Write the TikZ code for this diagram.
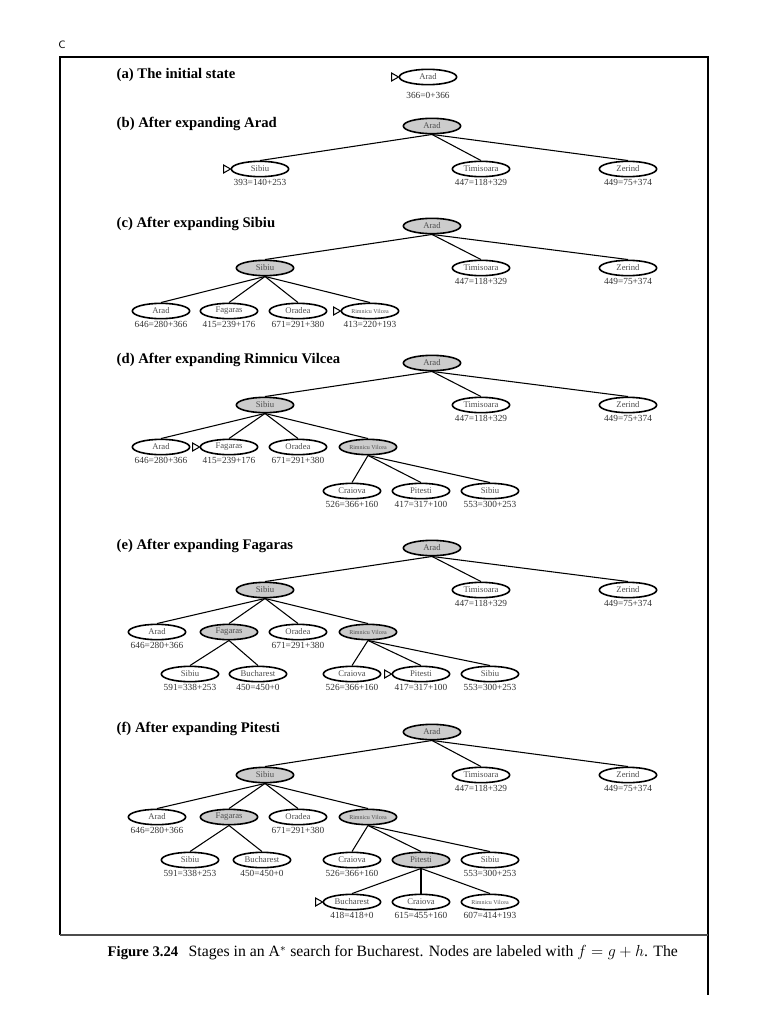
\documentclass[tikz,border=0pt]{standalone}
\usepackage{fontspec}
\setmainfont{Liberation Serif}
\usetikzlibrary{shapes.geometric}

\newcommand\frontier[1]{\draw[thick] (#1.west) -- ++(-7,-4) -- ++(0,8) -- cycle;}

\begin{document}
\begin{tikzpicture}[x=0.75pt,y=-0.75pt,
    city/.style={ellipse, draw, very thick, inner sep=0pt, minimum width=43pt, minimum height=11.5pt,
      font=\fontsize{6.5}{7}\selectfont, text=black!70},
    done/.style={city, fill=black!20},
    fval/.style={font=\fontsize{7}{8}\selectfont, text=black!80},
    title/.style={anchor=west, font=\fontsize{11}{13}\selectfont\bfseries},
    edge/.style={thick}
  ]
  \useasboundingbox (0,0) rectangle (768,1024);
  \node[font=\fontsize{8}{9}\sffamily] (c) at (62,45) {C};
  \draw[thick] (60,935) -- (60,57) -- (708,57) -- (708,995);
  \draw[very thick, black!70] (60,935) -- (708,935);

  % (a)
  \node[title] (ta) at (112,75) {(a) The initial state};
  \node[city] (a0) at (428,77) {Arad};
  \node[fval] (fa0) at (428,95) {366=0+366};
  \frontier{a0}

  % (b)
  \node[title] (tb) at (112,124) {(b) After expanding Arad};
  \node[done] (b0) at (432,126) {Arad};
  \node[city,label={[fval,inner sep=1pt]below:393=140+253}] (b1) at (260,169) {Sibiu};
  \node[city,label={[fval,inner sep=1pt]below:447=118+329}] (b2) at (481,169) {Timisoara};
  \node[city,label={[fval,inner sep=1pt]below:449=75+374}] (b3) at (628,169) {Zerind};
  \foreach \c in {b1,b2,b3} \draw[edge] (b0.south) -- (\c.north);
  \frontier{b1}

  % (c)
  \node[title] (tc) at (112,224) {(c) After expanding Sibiu};
  \node[done] (c0) at (432,226) {Arad};
  \node[done] (c1) at (265,268) {Sibiu};
  \node[city,label={[fval,inner sep=1pt]below:447=118+329}] (c2) at (481,268) {Timisoara};
  \node[city,label={[fval,inner sep=1pt]below:449=75+374}] (c3) at (628,268) {Zerind};
  \node[city,label={[fval,inner sep=1pt]below:646=280+366}] (c11) at (161,311) {Arad};
  \node[city,label={[fval,inner sep=1pt]below:415=239+176}] (c12) at (229,311) {Fagaras};
  \node[city,label={[fval,inner sep=1pt]below:671=291+380}] (c13) at (298,311) {Oradea};
  \node[city,label={[fval,inner sep=1pt]below:413=220+193},font=\fontsize{4.5}{5}\selectfont] (c14) at (370,311) {Rimnicu Vilcea};
  \foreach \c in {c1,c2,c3} \draw[edge] (c0.south) -- (\c.north);
  \foreach \c in {c11,c12,c13,c14} \draw[edge] (c1.south) -- (\c.north);
  \frontier{c14}

  % (d)
  \node[title] (td) at (112,360) {(d) After expanding Rimnicu Vilcea};
  \node[done] (d0) at (432,363) {Arad};
  \node[done] (d1) at (265,405) {Sibiu};
  \node[city,label={[fval,inner sep=1pt]below:447=118+329}] (d2) at (481,405) {Timisoara};
  \node[city,label={[fval,inner sep=1pt]below:449=75+374}] (d3) at (628,405) {Zerind};
  \node[city,label={[fval,inner sep=1pt]below:646=280+366}] (d11) at (161,447) {Arad};
  \node[city,label={[fval,inner sep=1pt]below:415=239+176}] (d12) at (229,447) {Fagaras};
  \node[city,label={[fval,inner sep=1pt]below:671=291+380}] (d13) at (298,447) {Oradea};
  \node[done,font=\fontsize{4.5}{5}\selectfont] (d14) at (368,447) {Rimnicu Vilcea};
  \node[city,label={[fval,inner sep=1pt]below:526=366+160}] (d141) at (352,491) {Craiova};
  \node[city,label={[fval,inner sep=1pt]below:417=317+100}] (d142) at (421,491) {Pitesti};
  \node[city,label={[fval,inner sep=1pt]below:553=300+253}] (d143) at (490,491) {Sibiu};
  \foreach \c in {d1,d2,d3} \draw[edge] (d0.south) -- (\c.north);
  \foreach \c in {d11,d12,d13,d14} \draw[edge] (d1.south) -- (\c.north);
  \foreach \c in {d141,d142,d143} \draw[edge] (d14.south) -- (\c.north);
  \frontier{d12}

  % (e)
  \node[title] (te) at (112,546) {(e) After expanding Fagaras};
  \node[done] (e0) at (432,548) {Arad};
  \node[done] (e1) at (265,590) {Sibiu};
  \node[city,label={[fval,inner sep=1pt]below:447=118+329}] (e2) at (481,590) {Timisoara};
  \node[city,label={[fval,inner sep=1pt]below:449=75+374}] (e3) at (628,590) {Zerind};
  \node[city,label={[fval,inner sep=1pt]below:646=280+366}] (e11) at (157,632) {Arad};
  \node[done] (e12) at (229,632) {Fagaras};
  \node[city,label={[fval,inner sep=1pt]below:671=291+380}] (e13) at (298,632) {Oradea};
  \node[done,font=\fontsize{4.5}{5}\selectfont] (e14) at (368,632) {Rimnicu Vilcea};
  \node[city,label={[fval,inner sep=1pt]below:591=338+253}] (e121) at (190,674) {Sibiu};
  \node[city,label={[fval,inner sep=1pt]below:450=450+0}] (e122) at (258,674) {Bucharest};
  \node[city,label={[fval,inner sep=1pt]below:526=366+160}] (e141) at (352,674) {Craiova};
  \node[city,label={[fval,inner sep=1pt]below:417=317+100}] (e142) at (421,674) {Pitesti};
  \node[city,label={[fval,inner sep=1pt]below:553=300+253}] (e143) at (490,674) {Sibiu};
  \foreach \c in {e1,e2,e3} \draw[edge] (e0.south) -- (\c.north);
  \foreach \c in {e11,e12,e13,e14} \draw[edge] (e1.south) -- (\c.north);
  \foreach \c in {e121,e122} \draw[edge] (e12.south) -- (\c.north);
  \foreach \c in {e141,e142,e143} \draw[edge] (e14.south) -- (\c.north);
  \frontier{e142}

  % (f)
  \node[title] (tf) at (112,729) {(f) After expanding Pitesti};
  \node[done] (f0) at (432,732) {Arad};
  \node[done] (f1) at (265,775) {Sibiu};
  \node[city,label={[fval,inner sep=1pt]below:447=118+329}] (f2) at (481,775) {Timisoara};
  \node[city,label={[fval,inner sep=1pt]below:449=75+374}] (f3) at (628,775) {Zerind};
  \node[city,label={[fval,inner sep=1pt]below:646=280+366}] (f11) at (157,817) {Arad};
  \node[done] (f12) at (229,817) {Fagaras};
  \node[city,label={[fval,inner sep=1pt]below:671=291+380}] (f13) at (298,817) {Oradea};
  \node[done,font=\fontsize{4.5}{5}\selectfont] (f14) at (368,817) {Rimnicu Vilcea};
  \node[city,label={[fval,inner sep=1pt]below:591=338+253}] (f121) at (190,860) {Sibiu};
  \node[city,label={[fval,inner sep=1pt]below:450=450+0}] (f122) at (262,860) {Bucharest};
  \node[city,label={[fval,inner sep=1pt]below:526=366+160}] (f141) at (352,860) {Craiova};
  \node[done] (f142) at (421,860) {Pitesti};
  \node[city,label={[fval,inner sep=1pt]below:553=300+253}] (f143) at (490,860) {Sibiu};
  \node[city,label={[fval,inner sep=1pt]below:418=418+0}] (f1421) at (352,902) {Bucharest};
  \node[city,label={[fval,inner sep=1pt]below:615=455+160}] (f1422) at (421,902) {Craiova};
  \node[city,label={[fval,inner sep=1pt]below:607=414+193},font=\fontsize{4.5}{5}\selectfont] (f1423) at (490,902) {Rimnicu Vilcea};
  \foreach \c in {f1,f2,f3} \draw[edge] (f0.south) -- (\c.north);
  \foreach \c in {f11,f12,f13,f14} \draw[edge] (f1.south) -- (\c.north);
  \foreach \c in {f121,f122} \draw[edge] (f12.south) -- (\c.north);
  \foreach \c in {f141,f142,f143} \draw[edge] (f14.south) -- (\c.north);
  \foreach \c in {f1421,f1422,f1423} \draw[edge] (f142.south) -- (\c.north);
  \frontier{f1421}

  % caption
  \node[anchor=west, font=\fontsize{11}{13}\selectfont\bfseries] (cap) at (103,953) {Figure 3.24};
  \node[anchor=west, font=\fontsize{11.8}{14}\selectfont] (capt) at (184,953)
    {Stages in an A$^*$ search for Bucharest. Nodes are labeled with $f=g+h$. The};
\end{tikzpicture}
\end{document}
